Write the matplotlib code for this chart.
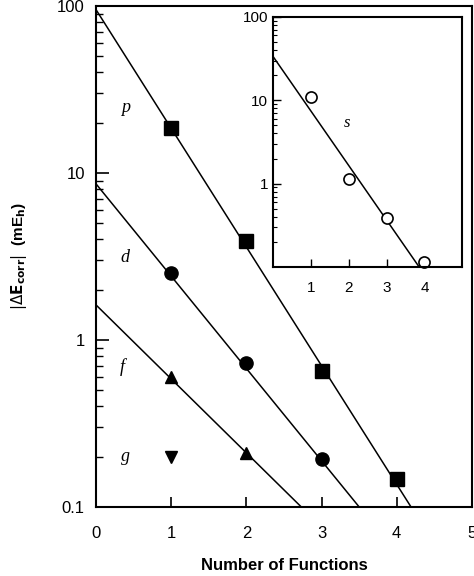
import matplotlib
matplotlib.use('Agg')
import matplotlib.pyplot as plt
from matplotlib.ticker import LogLocator, NullFormatter

# main plot data
p_x = [1, 2, 3, 4]
p_y = [18.5, 3.9, 0.65, 0.147]
d_x = [1, 2, 3]
d_y = [2.5, 0.73, 0.194]
f_x = [1, 2]
f_y = [0.60, 0.21]
g_x = [1]
g_y = [0.20]

# fitted lines, end points
p_line_x = [0, 4.19]
p_line_y = [95, 0.1]
d_line_x = [0, 3.50]
d_line_y = [8.6, 0.1]
f_line_x = [0, 2.73]
f_line_y = [1.62, 0.1]

# inset (s functions)
s_x = [1, 2, 3, 4]
s_y = [10.9, 1.15, 0.39, 0.115]
s_line_x = [0, 3.86]
s_line_y = [33, 0.1]

labels = ['p', 'd', 'f', 'g']
label_x = [0.39, 0.39, 0.35, 0.39]
label_y = [24.5, 3.1, 0.69, 0.20]

plt.rcParams['font.family'] = ['Liberation Sans', 'DejaVu Sans']

fig = plt.figure(figsize=(4.74, 5.76), dpi=100)
ax = fig.add_axes([0.2025, 0.12, 0.793, 0.8698])

lw = 1.1
ax.plot(p_line_x, p_line_y, color='black', lw=lw)
ax.plot(d_line_x, d_line_y, color='black', lw=lw)
ax.plot(f_line_x, f_line_y, color='black', lw=lw)
ax.plot(p_x, p_y, 's', color='black', ms=9.5)
ax.plot(d_x, d_y, 'o', color='black', ms=9.5)
ax.plot(f_x, f_y, '^', color='black', ms=9)
ax.plot(g_x, g_y, 'v', color='black', ms=9)

for lab, lx, ly in zip(labels, label_x, label_y):
    ax.text(lx, ly, lab, family='Liberation Serif', style='italic', fontsize=13,
            ha='center', va='center')

ax.set_yscale('log')
ax.set_xlim(0, 5)
ax.set_ylim(0.1, 100)
ax.set_xticks([0, 1, 2, 3, 4, 5])
ax.set_yticks([0.1, 1, 10, 100])
ax.set_yticklabels(['0.1', '1', '10', '100'])
ax.yaxis.set_minor_locator(LogLocator(base=10, subs=range(2, 10)))
ax.yaxis.set_minor_formatter(NullFormatter())
ax.tick_params(axis='y', which='major', direction='in', length=9, width=1.2, labelsize=12, pad=8)
ax.tick_params(axis='y', which='minor', direction='in', length=5, width=1)
ax.tick_params(axis='x', which='major', direction='in', length=7, width=1.2, labelsize=12, pad=14)
for sp in ax.spines.values():
    sp.set_linewidth(1.5)
ax.set_xlabel('Number of Functions', fontsize=12, fontweight='bold', labelpad=12)
ax.set_ylabel(r'$|\Delta\mathbf{E}_{\mathbf{corr}}|$  (mE$_\mathbf{h}$)', fontsize=11,
              fontweight='bold', labelpad=20)

# inset
ins = fig.add_axes([0.577, 0.5365, 0.398, 0.434])
ins.plot(s_line_x, s_line_y, color='black', lw=lw)
ins.plot(s_x, s_y, 'o', mfc='white', mec='black', mew=1.2, ms=8, clip_on=False)
ins.text(1.96, 5.3, 's', family='Liberation Serif', style='italic', fontsize=12,
         ha='center', va='center')
ins.set_yscale('log')
ins.set_xlim(0, 5)
ins.set_ylim(0.1, 100)
ins.set_xticks([1, 2, 3, 4])
ins.set_yticks([1, 10, 100])
ins.set_yticklabels(['1', '10', '100'])
ins.yaxis.set_minor_locator(LogLocator(base=10, subs=range(2, 10)))
ins.yaxis.set_minor_formatter(NullFormatter())
ins.tick_params(axis='y', which='major', direction='in', length=6, width=1, labelsize=11, pad=4)
ins.tick_params(axis='y', which='minor', direction='in', length=3, width=0.8)
ins.tick_params(axis='x', which='major', direction='in', length=6, width=1, labelsize=11, pad=10)
for sp in ins.spines.values():
    sp.set_linewidth(1.5)

fig.savefig('out.png', dpi=100)
